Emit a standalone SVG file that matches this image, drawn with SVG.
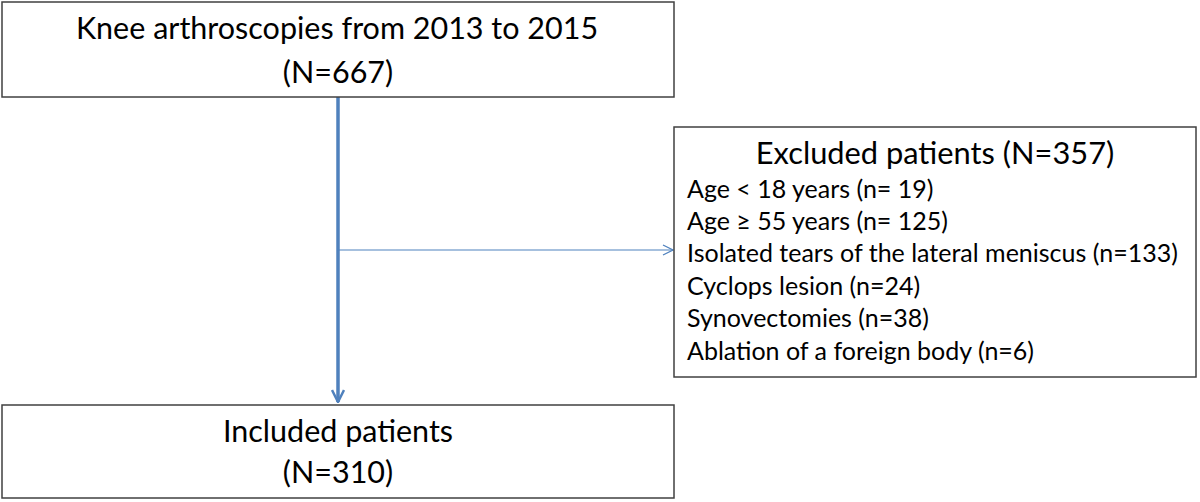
<svg xmlns="http://www.w3.org/2000/svg" width="1200" height="502" viewBox="0 0 1200 502">
<defs>
<style>
.box{fill:#fff;stroke:#404040;stroke-width:1.5}
.t{font-family:Lato,"Open Sans","Liberation Sans",sans-serif;fill:#000}
.big{font-size:30.5px;text-anchor:middle}
.hd{font-size:30.8px;text-anchor:middle}
.li{font-size:25px}
</style>
<marker id="ah" viewBox="0 0 12 12" refX="11" refY="6" markerWidth="12" markerHeight="12" markerUnits="userSpaceOnUse" orient="auto">
<path d="M1,1 L11,6 L1,11" fill="none" stroke="#4f81bd" stroke-width="1.3"/>
</marker>
<marker id="ah2" viewBox="0 0 14 14" refX="13" refY="7" markerWidth="14" markerHeight="14" markerUnits="userSpaceOnUse" orient="auto">
<path d="M1,1 L13,7 L1,13" fill="none" stroke="#4f81bd" stroke-width="2.5"/>
</marker>
</defs>
<rect width="1200" height="502" fill="#fff"/>
<g id="connectors">
<line x1="338" y1="97" x2="338" y2="402" stroke="#4f81bd" stroke-width="3.5" marker-end="url(#ah2)"/>
<line x1="338" y1="250" x2="673" y2="250" stroke="#4f81bd" stroke-width="1.2" marker-end="url(#ah)"/>
</g>
<g id="n1">
<rect class="box" x="2" y="2" width="672" height="95"/>
<text class="t big" x="337" y="39">Knee arthroscopies from 2013 to 2015</text>
<text class="t big" x="338" y="83">(N=667)</text>
</g>
<g id="n3">
<rect class="box" x="2" y="405" width="672" height="93"/>
<text class="t big" x="338" y="442">Included patients</text>
<text class="t big" x="338" y="483">(N=310)</text>
</g>
<g id="n2">
<rect class="box" x="674" y="127" width="522" height="250"/>
<text class="t hd" x="935" y="164">Excluded patients (N=357)</text>
<text class="t li" x="687" y="198">Age &lt; 18 years (n= 19)</text>
<text class="t li" x="687" y="230">Age ≥ 55 years (n= 125)</text>
<text class="t li" x="687" y="262">Isolated tears of the lateral meniscus (n=133)</text>
<text class="t li" x="687" y="295">Cyclops lesion (n=24)</text>
<text class="t li" x="687" y="327">Synovectomies (n=38)</text>
<text class="t li" x="687" y="360">Ablation of a foreign body (n=6)</text>
</g>
</svg>
